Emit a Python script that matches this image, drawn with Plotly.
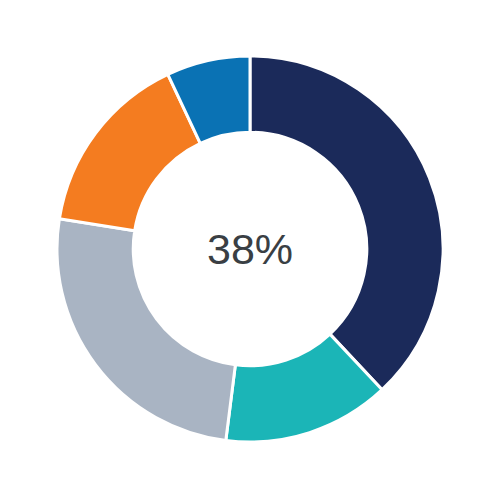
import plotly.graph_objects as go

labels = ['A', 'B', 'C', 'D', 'E']
values = [38, 14, 25.5, 15.5, 7]
colors = ['#1b2a5a', '#1bb5b7', '#a9b4c3', '#f47c20', '#0a72b4']
center_text = '38%'

fig = go.Figure()
fig.add_trace(go.Pie(
    labels=labels, values=values,
    hole=0.605,
    sort=False,
    direction='clockwise',
    rotation=0,
    marker=dict(colors=colors, line=dict(color='white', width=3)),
    textinfo='none',
    hoverinfo='skip',
    showlegend=False,
))

fig.add_annotation(
    text=center_text, x=0.5, y=0.5, xref='paper', yref='paper',
    showarrow=False,
    font=dict(family='Liberation Sans, Arial', size=43, color='#3a3f44'),
)

# page body adds 8px, so margins are shifted to keep the ring centred
fig.update_layout(
    width=500, height=500,
    margin=dict(l=49, r=65, t=48, b=66),
    paper_bgcolor='white',
    plot_bgcolor='white',
)

fig.write_html("out.html")
